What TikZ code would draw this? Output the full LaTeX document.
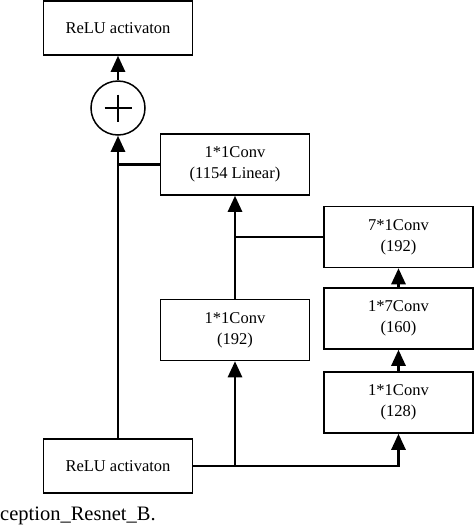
\documentclass[tikz,border=0pt]{standalone}
\usepackage{fontspec}
\setmainfont{Liberation Serif}
\usetikzlibrary{positioning,arrows.meta}

\begin{document}
\begin{tikzpicture}[
    x=1pt, y=-1pt,
    line/.style={%
      line width=2.6pt,
    },
  ]

\tikzstyle{box} = [rectangle, minimum width=149pt, minimum height=61pt, text centered, align=center, draw=black, line width=1.5pt, inner sep=0pt, font=\fontsize{16.5}{21}\selectfont]

\tikzstyle{act} = [box, minimum height=54pt]

\tikzstyle{arr} = [line, -{Triangle[width=14pt,length=16pt]}]

    \useasboundingbox (0,0) rectangle (474,531);

    \node [act] (A) at (118,28) {ReLU activaton};
    \node [circle, draw=black, line width=1.5pt, minimum size=54pt, inner sep=0pt] (S) at (118,108) {};
    \node [box] (B) at (235,164.5) {1*1Conv\\(1154 Linear)};
    \node [box] (C) at (235,330) {1*1Conv\\(192)};
    \node [box] (D) at (398.5,237) {7*1Conv\\(192)};
    \node [box] (E) at (398.5,318.5) {1*7Conv\\(160)};
    \node [box] (F) at (398.5,402.5) {1*1Conv\\(128)};
    \node [act] (G) at (118,466) {ReLU activaton};
    \node [anchor=west, inner sep=0pt, font=\fontsize{20.5}{24}\selectfont] (T) at (0,516) {ception\_Resnet\_B.};

    % plus sign
    \draw [line width=1.6pt] (S.center) ++(-13.5,0) -- ++(27,0);
    \draw [line width=1.6pt] (S.center) ++(0,-13.5) -- ++(0,27);

    \coordinate (j1) at (S.south |- B.west);
    \coordinate (j2) at (C.south |- G.east);
    \coordinate (j3) at (C.north |- D.west);

    \draw [arr] (G.north) -- (S.south);
    \draw [arr] (S.north) -- (A.south);
    \draw [line] (j1) -- (B.west);
    \draw [arr] (G.east) -| (F.south);
    \draw [arr] (j2) -- (C.south);
    \draw [arr] (C.north) -- (B.south);
    \draw [line] (D.west) -- (j3);
    \draw [arr] (F.north) -- (E.south);
    \draw [arr] (E.north) -- (D.south);
\end{tikzpicture}
\end{document}
